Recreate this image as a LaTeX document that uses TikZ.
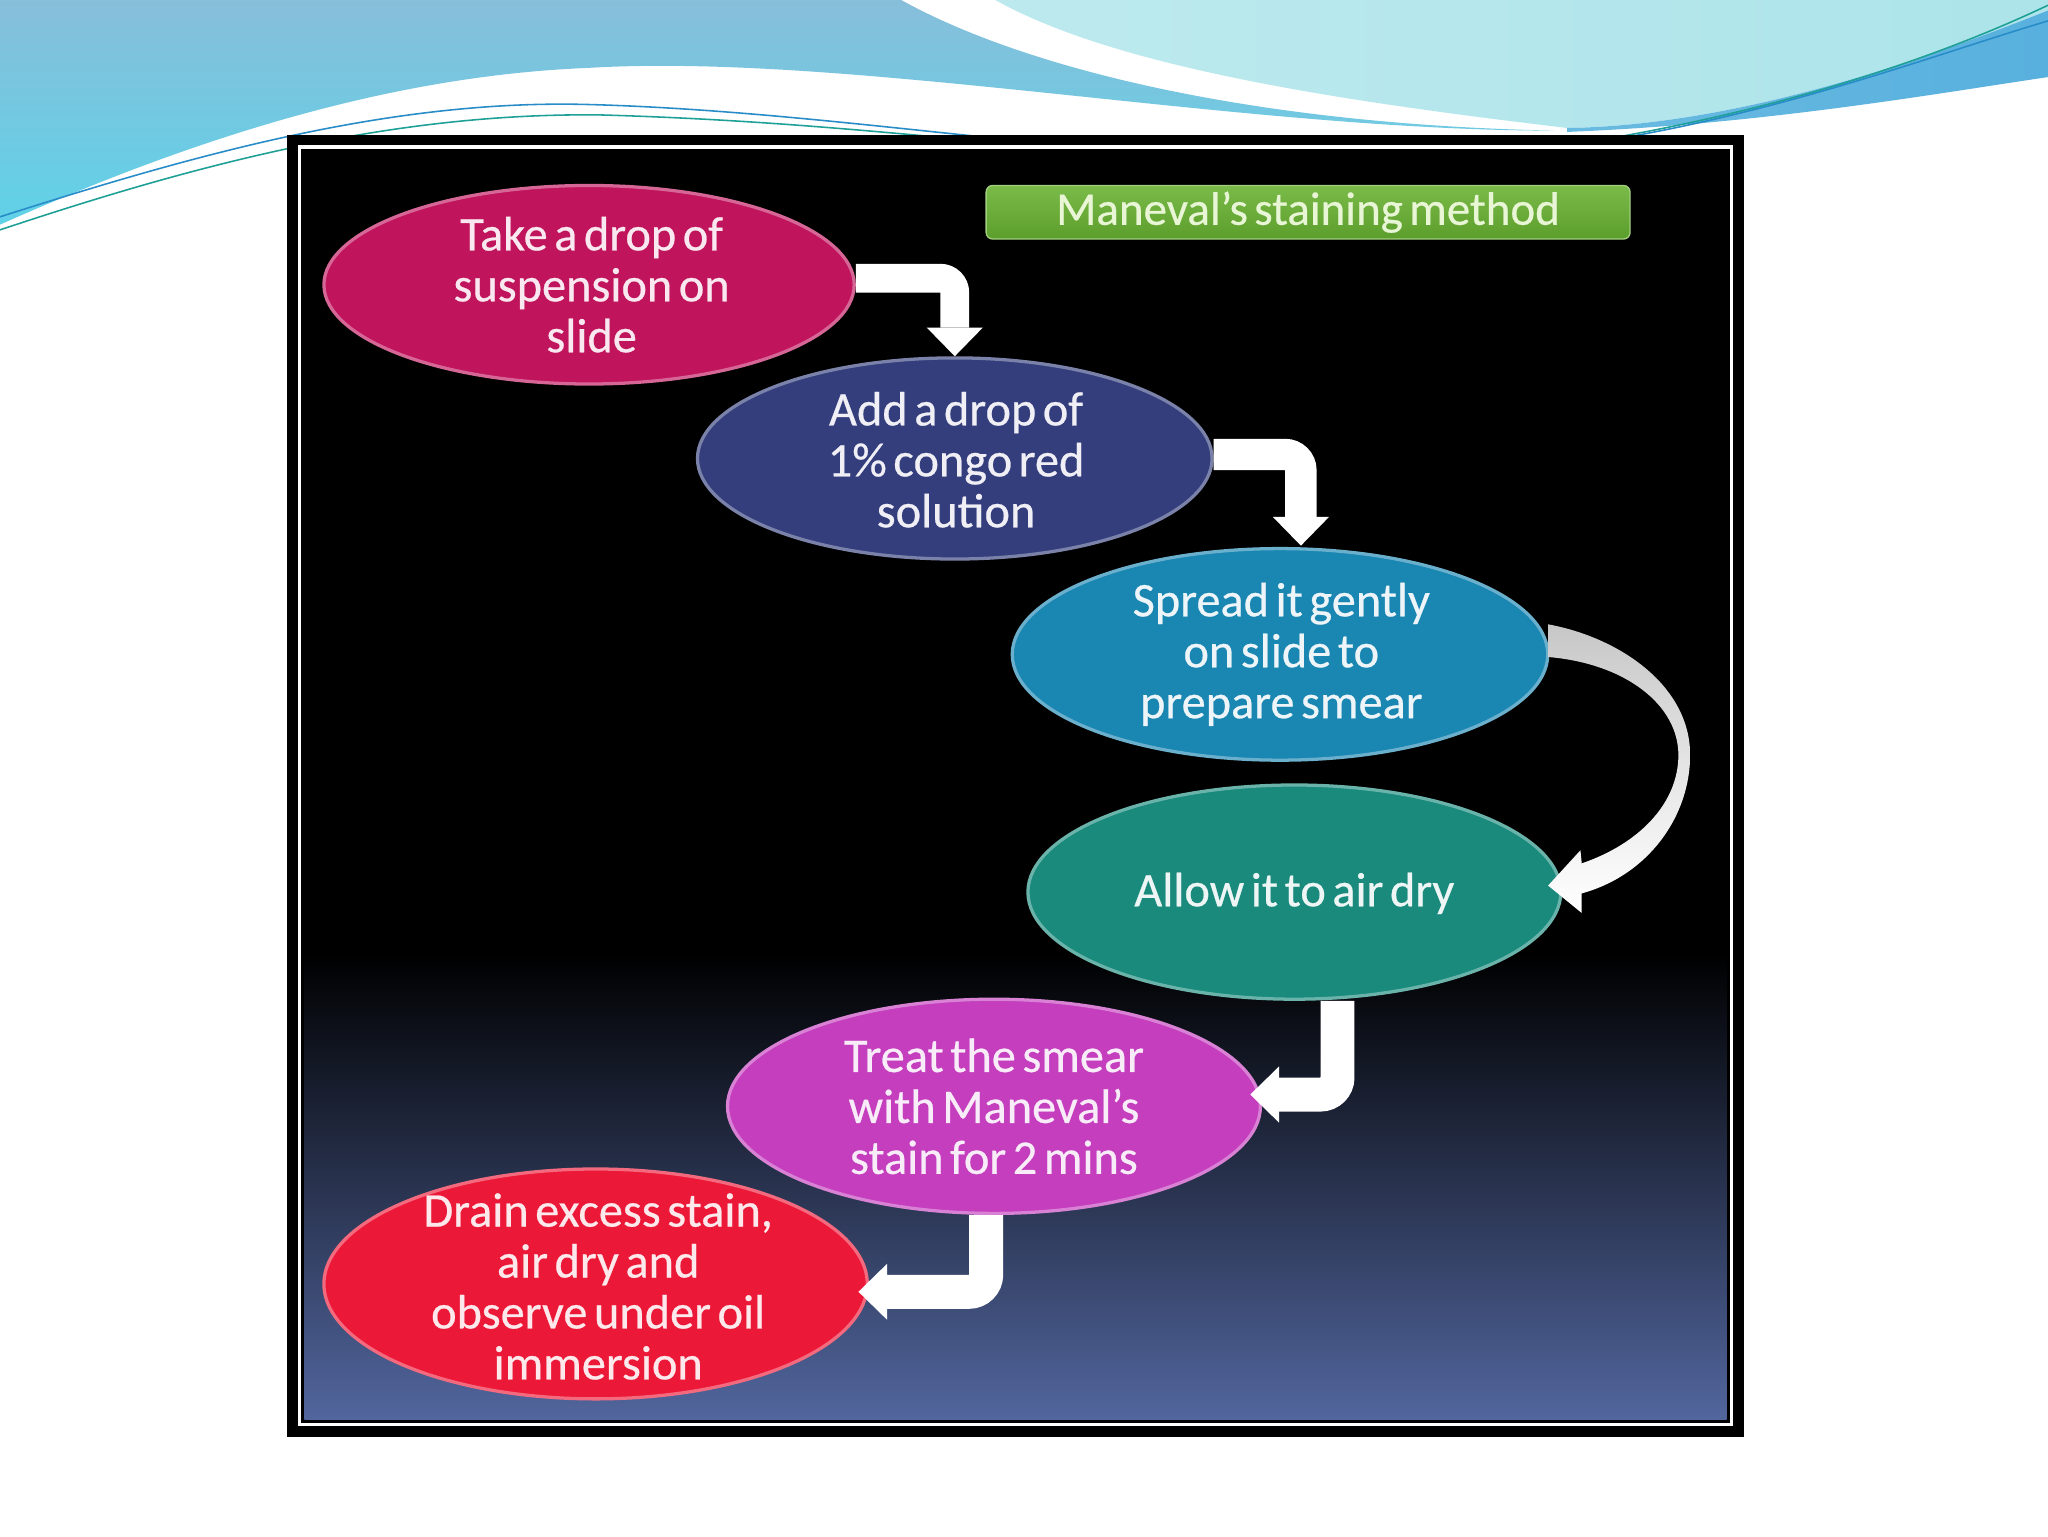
\documentclass[tikz,border=0pt]{standalone}
\usepackage{fontspec}
\setmainfont{Carlito}[WordSpace=0.6, FakeBold=0.5]
\usetikzlibrary{arrows.meta,calc,shapes.geometric}
\definecolor{cA}{RGB}{192,20,92}
\definecolor{cB}{RGB}{52,62,125}
\definecolor{cC}{RGB}{26,134,178}
\definecolor{cD}{RGB}{25,138,124}
\definecolor{cE}{RGB}{196,62,190}
\definecolor{cF}{RGB}{236,24,56}
\definecolor{bgbot}{RGB}{82,102,158}
\definecolor{wavetop}{RGB}{135,190,218}
\definecolor{wavebot}{RGB}{95,210,232}
\definecolor{lcyan}{RGB}{172,228,234}
\definecolor{mblue}{RGB}{88,176,222}
\definecolor{lineblue}{RGB}{40,140,200}
\definecolor{lineteal}{RGB}{30,160,150}
\definecolor{gtop}{RGB}{122,186,72}
\definecolor{gbot}{RGB}{92,158,44}
\definecolor{gtext}{RGB}{232,246,214}
\begin{document}
\begin{tikzpicture}[x=1pt,y=-1pt,
  stepell/.style={ellipse, inner sep=0pt, line width=2.5pt},
  steptext/.style={align=center, inner sep=0pt, font=\fontsize{37}{39}\selectfont},
  bentarrow/.style={draw=white, line width=24pt, rounded corners=12pt,
     -{Triangle[length=22pt,width=43pt,line width=0pt]}},
]
\useasboundingbox (0,0) rectangle (1568,1176);
\fill[white] (0,0) rectangle (1568,1176);
% decorative waves
\shade[top color=wavetop, bottom color=wavebot]
  (0,0) -- (690,0) .. controls (780,50) and (950,95) .. (1190,100)
  .. controls (950,100) and (650,40) .. (450,52)
  .. controls (300,58) and (150,105) .. (0,172) -- cycle;
\shade[left color=lcyan!80!white, right color=lcyan]
  (762,0) -- (1568,0) -- (1568,8)
  .. controls (1450,55) and (1320,96) .. (1200,98)
  .. controls (1050,80) and (860,55) .. (762,0) -- cycle;
\shade[left color=mblue!80!lcyan, right color=mblue]
  (1200,98) .. controls (1320,96) and (1450,55) .. (1568,8) -- (1568,59)
  .. controls (1480,72) and (1350,95) .. (1200,101) -- cycle;
\draw[lineblue, line width=1.2pt] (0,166) .. controls (150,118) and (300,76) .. (450,80)
  .. controls (600,84) and (750,108) .. (900,118);
\draw[lineteal, line width=1.2pt] (0,176) .. controls (150,126) and (300,86) .. (460,88)
  .. controls (600,92) and (700,104) .. (820,114);
\draw[lineteal, line width=1.2pt] (1150,118) .. controls (1300,100) and (1450,60) .. (1568,4);
\draw[lineblue, line width=1.2pt] (1200,112) .. controls (1350,92) and (1480,42) .. (1568,16);
% frame
\fill[black] (220,103) rectangle (1335,1100);
\draw[white, line width=2.5pt] (229.5,112.5) rectangle (1325.5,1090.5);
\fill[black] (233,116) rectangle (1322,731);
\shade[top color=black, bottom color=bgbot] (233,730) rectangle (1322,1087);
% title
\node[draw=gtop!70!white, line width=1pt, rounded corners=5pt, top color=gtop, bottom color=gbot,
  minimum width=493pt, minimum height=41pt, inner sep=0pt, text=gtext,
  font=\fontsize{36}{38}\selectfont] (title) at (1001.5,162.5) {Maneval’s staining method};
% ellipses
\node[stepell, fill=cA, draw=cA!65!white, minimum width=406pt, minimum height=152pt] (e1) at (451,218) {};
\node[stepell, fill=cB, draw=cB!65!white, minimum width=394pt, minimum height=154pt] (e2) at (731,351) {};
\node[stepell, fill=cC, draw=cC!65!white, minimum width=410pt, minimum height=162pt] (e3) at (980,501) {};
\node[stepell, fill=cD, draw=cD!65!white, minimum width=408pt, minimum height=164pt] (e4) at (991,683) {};
\node[stepell, fill=cE, draw=cE!65!white, minimum width=408pt, minimum height=164pt] (e5) at (761,847) {};
\node[stepell, fill=cF, draw=cF!65!white, minimum width=416pt, minimum height=176pt] (e6) at (456,983) {};
\node[steptext, text=white!90!cA] (t1) at ($(e1.center)+(2,0)$) {Take a drop of\\suspension on\\slide};
\node[steptext, text=white!92!cB] (t2) at ($(e2.center)+(1,1)$) {Add a drop of\\1\% congo red\\solution};
\node[steptext, text=white!92!cC] (t3) at ($(e3.center)+(1,0)$) {Spread it gently\\on slide to\\prepare smear};
\node[steptext, text=white!92!cD] (t4) at ($(e4.center)+(0,1)$) {Allow it to air dry};
\node[steptext, text=white!90!cE] (t5) at (e5.center) {Treat the smear\\with Maneval’s\\stain for 2 mins};
\node[steptext, text=white!90!cF] (t6) at ($(e6.center)+(2,2)$) {Drain excess stain,\\air dry and\\observe under oil\\immersion};
% connectors
\draw[bentarrow, line width=22pt, rounded corners=11pt] ($(e1.east)+(0,-5)$) -| (e2.north);
\draw[bentarrow] ($(e2.east)+(0,-3)$) -| ($(e3.north)+(16,-1)$);
\draw[bentarrow, line width=26pt, rounded corners=13pt] ($(e4.south)+(33,0)$) |- ($(e5.east)+(-9,-9)$);
\draw[bentarrow, line width=26pt, rounded corners=13pt] ($(e5.south)+(-6,0)$) |- ($(e6.east)+(-8,6)$);
% curved arrow from e3 to e4
\coordinate (c3s) at ($(e3.east)+(-1,-23)$);
\coordinate (c3i) at ($(e3.east)+(-1,2)$);
\coordinate (c4t) at ($(e4.east)+(-11,-5)$);
\shade[top color=black!22, bottom color=white, middle color=black!10]
  (c3s) .. controls (1240,488) and (1294,525) .. (1294,578)
  .. controls (1294,625) and (1262,670) .. (1211,684)
  -- (1211,699) -- (c4t) -- (1210,651) -- (1211,661)
  .. controls (1255,646) and (1285,615) .. (1285,578)
  .. controls (1285,540) and (1245,508) .. (c3i) -- cycle;
\end{tikzpicture}
\end{document}
